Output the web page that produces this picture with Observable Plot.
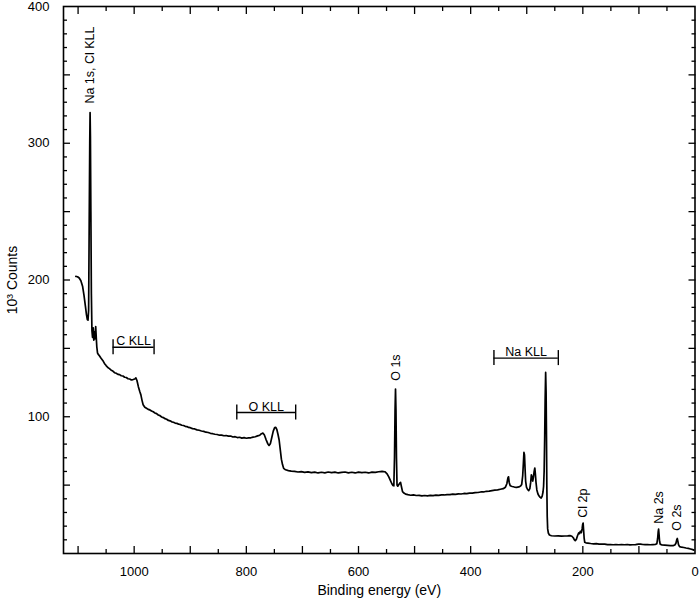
<!DOCTYPE html>
<html><head><meta charset="utf-8">
<script src="https://cdn.jsdelivr.net/npm/d3@7"></script>
<script src="https://cdn.jsdelivr.net/npm/@observablehq/plot@0.6"></script>
<style>body{margin:0;background:#fff;}</style>
</head><body><div id="chart"></div>
<script>
// Binding energy (eV) and counts (10^3)
const energy = [1104,1101,1098,1095,1092,1089.5,1087,1085,1083.5,1082.3,1081.2,1080.2,1079.2,1078.6,1078,1077.2,1076.3,1075.3,1074.2,1073,1072,1071,1069.8,1068.6,1067.6,1066.6,1065.3,1064.3,1062,1059,1056,1053,1050,1047,1044,1041,1038,1035,1032,1029,1026,1023,1020,1017,1014,1011,1008,1005,1002,999,997,995,992.5,990,988,986,984,981,978,975,972,969,966,963,960,957,954,951,948,945,942,939,936,933,930,927,924,921,918,915,912,909,906,903,900,896,892,888,884,880,876,872,868,864,860,856,852,848,844,840,836,832,828,824,820,816,812,808,804,800,796,792,788,784,780,776,773,770.5,768,765,762,759.5,757,754.5,752,749.5,747.5,745.5,743.5,741.5,739.5,737.5,735.5,733.5,730,725,720,714,708,702,696,690,684,678,672,666,660,654,648,642,636,630,624,618,612,606,600,594,588,582,576,570,564,558,553,549,546,543,540.5,538.5,537,535.8,534.8,534,533.2,532.3,531.3,530,528.3,526.5,525,523.5,521.5,519,516,512,507,502,497,492,487,482,477,472,467,462,457,452,447,442,437,432,427,422,417,412,407,402,397,392,387,382,377,372,367,362,357,352,347,342,338,335.5,333.5,332.5,331.3,329.5,326,322,318,314,311,309,307.2,306,305,304,303,302,300.5,298.5,296.5,294.5,293,291.8,290.5,289.3,288,286.8,285.6,284.6,283.5,282,280,278,276,274.3,272.5,271,270,269,268,267.2,266.3,265.5,264.8,264.2,263.5,262.7,261.5,259.5,256,250,244,238,232,227,223,219.5,217,215.3,213.5,211.5,209.5,207.5,206,204.5,202.8,201.3,200.2,199.5,198.6,197.6,196.6,194.5,191,186,181,176,171,166,161,156,151,146,141,136,131,126,121,116,111,106,101,97,93,89,85,80,75,71,68,66.6,65.6,64.9,64.1,63.2,62,59,54,49,44,39,36,34,32.6,31.6,30.6,29.4,27.5,24,20,16,12,8,4,2];
const counts = [202.6,202.4,201.5,199.5,195.5,189,181,174.5,171,170.6,178,240,300,322.5,305,250,190,163,158,165,156,162,157,166,158,151,146.5,145.8,144.6,142.8,141.2,139,137.4,136,135.2,134,133.4,132.2,131.8,131,130.8,130,129.8,128.9,128.7,127.8,127.6,126.9,127.2,127.6,128.4,126.5,122,118.5,116,112,108.8,107,106.2,105.4,105,104.2,103.6,102.8,102.3,101.3,100.8,99.8,99.4,98.6,98.2,97.3,97,96.3,96,95.4,95.2,94.6,94.4,93.8,93.6,93,92.8,92.2,92,91.3,91.1,90.4,90.1,89.6,89.3,88.7,88.5,87.9,87.6,87.2,87,86.5,86.6,86.1,86.3,85.8,85.9,85.2,85.4,84.8,85,84.4,84.7,84.3,84.6,84.6,85.1,85.4,86,86.5,87.6,88,86.8,83.5,80.5,79,80.5,85,89.5,92,92.2,90.5,87,83,76,69,65,62.3,61.2,60.6,60.2,60.1,59.6,59.9,59.3,59.7,59.1,59.5,58.9,59.4,59.0,59.6,59.1,59.5,58.9,59.3,59.6,59.0,59.4,58.9,59.5,59.1,59.4,58.9,59.5,59.3,59.8,60.1,59.8,58.2,56,53.3,51,49.8,49.5,70,105,120.2,105,70,50,49.2,50.2,51.5,52,49,45.2,44.2,43.4,43,42.6,42.9,42.4,42.5,42.1,42.4,42.2,42.5,42.3,42.7,42.5,42.9,42.8,43.1,43,43.4,43.3,43.6,43.5,43.9,43.8,44.2,44.1,44.5,44.6,45,45,45.5,45.6,46,46.3,46.5,47,47.4,48.5,51,55.5,56.1,52,49.5,49,48.6,48.4,48.7,49.3,50.5,57,66,74,72,62,53,48.5,46.8,46,47.5,52,57.5,56,53,56,60,62.5,58,52,46.5,43.5,42,41,40.5,42,45,49,60,85,112,132.4,118,85,50,27,18,15,13.5,13,12.8,12.9,12.7,12.8,12.9,13.1,12.6,11.5,10.2,9.4,10.5,13,15,14.5,16.2,15.2,18,21.5,22.2,17,11,8.2,7.8,7.6,7.3,7.1,7.2,6.9,6.8,6.9,6.5,6.6,6.4,6.5,6.4,6.5,6.4,6.6,6.3,6.4,6.5,6.8,6.9,6.6,6.5,6.6,6.4,6.5,6.6,7.2,11,16,17.8,14,9,6.8,6.3,6.1,5.9,5.7,5.8,6.2,7.5,10,11,9,6.5,5,4.6,4.4,4.0,3.7,3.3,2.8,2.5];

// Peak labels (rotated)
const peakNames = ["Na 1s, Cl KLL", "O 1s", "Cl 2p", "Na 2s", "O 2s"];
const peakEnergy = [1078.6, 533.7, 199.5, 64.3, 32.8];
const peakLabelCounts = [329, 126.3, 26.1, 21.7, 16.6];

// Auger ranges (brackets)
const bracketNames = ["C KLL", "O KLL", "Na KLL"];
const bracketFrom = [1037.6, 817, 358.5];
const bracketTo = [964.5, 712, 243.7];
const bracketCounts = [150.8, 103.1, 142.9];

// Axis ticks
const xTickLabels = [1000, 800, 600, 400, 200, 0];
const yTickLabels = [100, 200, 300, 400];
const xMajor = d3.range(100, 1101, 100);
const xMinor = d3.range(50, 1101, 100);
const yMajor = d3.range(50, 400, 50);
const yMinor = d3.range(10, 400, 10).filter(v => v % 50 !== 0);

const spectrum = energy.map((e, i) => ({e, c: counts[i]}));
const peaks = peakNames.map((name, i) => ({name, e: peakEnergy[i], c: peakLabelCounts[i]}));
const brackets = bracketNames.map((name, i) => ({name, from: bracketFrom[i], to: bracketTo[i], mid: (bracketFrom[i] + bracketTo[i]) / 2, c: bracketCounts[i]}));
const caps = brackets.flatMap(b => [{e: b.from, c1: b.c - 5.5, c2: b.c + 5.5}, {e: b.to, c1: b.c - 5.5, c2: b.c + 5.5}]);

const blank = () => "";
const tickOpts = {tickFormat: blank, label: null, strokeWidth: 1.3};
const LONG = 7, SHORT = 4;

const chart = Plot.plot({
  width: 700,
  height: 600,
  marginLeft: 63,
  marginRight: 5.5,
  marginTop: 6,
  marginBottom: 47,
  style: {fontFamily: "'Liberation Sans', Arial, Helvetica, sans-serif", fontSize: "13px", color: "#000", background: "#fff"},
  x: {domain: [1126, 0]},
  y: {domain: [0, 400]},
  marks: [
    Plot.axisX({anchor: "bottom", ticks: xMajor, tickSize: LONG, dy: -LONG, ...tickOpts}),
    Plot.axisX({anchor: "bottom", ticks: xMinor, tickSize: SHORT, dy: -SHORT, ...tickOpts}),
    Plot.axisX({anchor: "top", ticks: xMajor, tickSize: LONG, dy: LONG, ...tickOpts}),
    Plot.axisX({anchor: "top", ticks: xMinor, tickSize: SHORT, dy: SHORT, ...tickOpts}),
    Plot.axisY({anchor: "left", ticks: yMajor, tickSize: LONG, dx: LONG, ...tickOpts}),
    Plot.axisY({anchor: "left", ticks: yMinor, tickSize: SHORT, dx: SHORT, ...tickOpts}),
    Plot.axisY({anchor: "right", ticks: yMajor, tickSize: LONG, dx: -LONG, ...tickOpts}),
    Plot.axisY({anchor: "right", ticks: yMinor, tickSize: SHORT, dx: -SHORT, ...tickOpts}),
    Plot.axisX({anchor: "bottom", ticks: xTickLabels, tickFormat: d => String(d), tickSize: 0, tickPadding: 13, label: null, fontSize: 13}),
    Plot.axisY({anchor: "left", ticks: yTickLabels, tickFormat: d => String(d), tickSize: 0, tickPadding: 14, label: null, fontSize: 13}),
    Plot.axisX({anchor: "bottom", ticks: [], tickSize: 0, label: "Binding energy (eV)", labelAnchor: "center", labelArrow: "none", labelOffset: 41, fontSize: 14}),
    Plot.axisY({anchor: "left", ticks: [], tickSize: 0, label: "10³ Counts", labelAnchor: "center", labelArrow: "none", labelOffset: 56, fontSize: 14}),
    Plot.frame({strokeWidth: 1.6}),
    Plot.line(spectrum, {x: "e", y: "c", strokeWidth: 1.7, strokeLinejoin: "round"}),
    Plot.text(peaks, {x: "e", y: "c", text: "name", rotate: -90, textAnchor: "start", fontSize: 12.5}),
    Plot.ruleY(brackets, {y: "c", x1: "from", x2: "to", strokeWidth: 1.4}),
    Plot.ruleX(caps, {x: "e", y1: "c1", y2: "c2", strokeWidth: 1.4}),
    Plot.text(brackets, {x: "mid", y: "c", text: "name", lineAnchor: "bottom", dy: -2, fontSize: 12.5})
  ]
});
document.getElementById("chart").appendChild(chart);
</script>
</body></html>
